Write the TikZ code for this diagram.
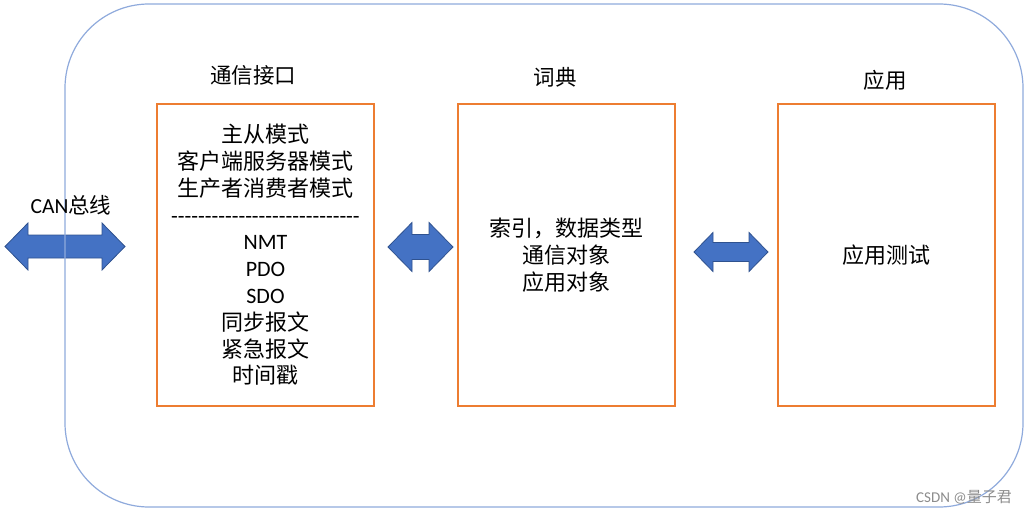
\documentclass[tikz,border=0pt]{standalone}
\usepackage{fontspec}
\setmainfont{Carlito}
\newfontfamily\cjk{Noto Sans CJK SC}
\newfontfamily\lat{Carlito}
\definecolor{frameblue}{HTML}{8FAADC}
\definecolor{boxorange}{HTML}{ED7D31}
\definecolor{arrowfill}{HTML}{4472C4}
\definecolor{arrowline}{HTML}{2F528F}
% double arrow: x1, x2, y centre, head length, half head, half shaft
\newcommand{\dblarrow}[6]{%
  \filldraw [arrowstyle] (#1,#3) -- ({#1+#4},{#3-#5}) -- ({#1+#4},{#3-#6})
    -- ({#2-#4},{#3-#6}) -- ({#2-#4},{#3-#5}) -- (#2,#3)
    -- ({#2-#4},{#3+#5}) -- ({#2-#4},{#3+#6}) -- ({#1+#4},{#3+#6})
    -- ({#1+#4},{#3+#5}) -- cycle;}
\newcommand{\dashrow}{\foreach \i in {1,...,28}{-\kern0pt}}
\begin{document}
\begin{tikzpicture}[x=1pt,y=-1pt,
  arrowstyle/.style={fill=arrowfill,draw=arrowline,line width=0.8pt},
  databox/.style={draw=boxorange,line width=2.6pt,minimum width=217pt,minimum height=302pt,
    align=center,font=\cjk\fontsize{22}{26.8}\selectfont,inner sep=0pt},
  title/.style={font=\cjk\fontsize{21.5}{24}\selectfont,inner sep=0pt}]
\useasboundingbox (0,0) rectangle (1027,513);
% arrows
\dblarrow{5}{125}{246.5}{23}{23.5}{11.5}
\dblarrow{388}{453}{247}{24}{24.5}{12.5}
\dblarrow{694}{768}{252}{19}{19.5}{9.5}
% outer frame
\draw [frameblue,line width=1.2pt,rounded corners=84pt] (65,4) rectangle (1023,507);
% boxes
\node [databox] (comm) at (265.5,255) {主从模式\\客户端服务器模式\\生产者消费者模式\\{\lat\dashrow}\\{\lat NMT}\\{\lat PDO}\\{\lat SDO}\\同步报文\\紧急报文\\时间戳};
\node [databox] (dict) at (566.5,255) {索引，数据类型\\通信对象\\应用对象};
\node [databox] (app) at (886.5,255) {应用测试};
% titles
\node [title] (commt) at (253,75) {通信接口};
\node [title] (dictt) at (555,77) {词典};
\node [title] (appt) at (885,80) {应用};
\node [title] (can) at (71,205) {{\lat CAN}总线};
\node [font=\cjk\fontsize{15}{17}\selectfont,text=black!45,inner sep=0pt] (mark) at (964,497) {{\lat CSDN @}量子君};
\end{tikzpicture}
\end{document}
